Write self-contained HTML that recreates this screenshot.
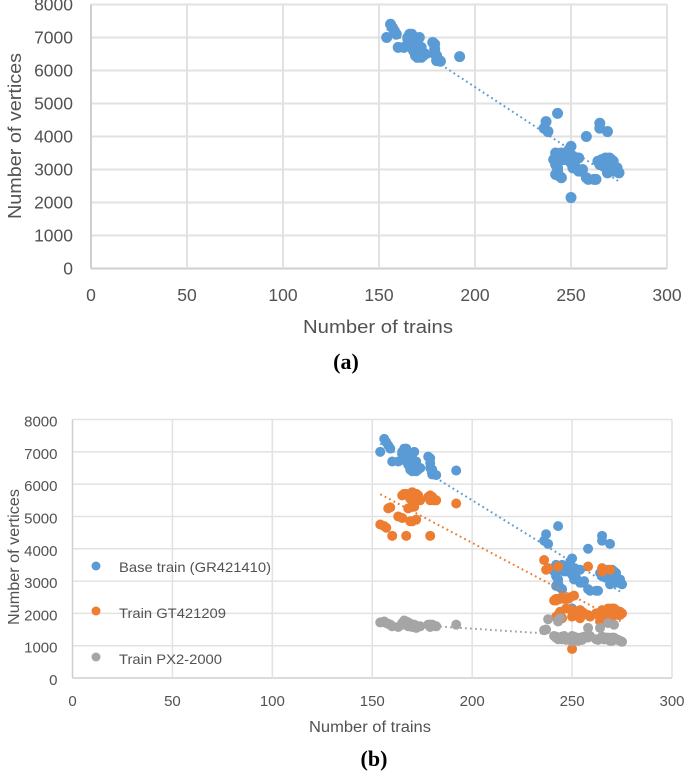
<!DOCTYPE html>
<html>
<head>
<meta charset="utf-8">
<title>Number of vertices vs number of trains</title>
<style>
html,body{margin:0;padding:0;background:#fff;width:685px;height:771px;overflow:hidden}
svg{display:block;filter:blur(.3px)}
text{font-family:"Liberation Sans",sans-serif;fill:#525252}
</style>
</head>
<body>
<svg id="figure" xmlns="http://www.w3.org/2000/svg" width="685" height="771" viewBox="0 0 685 771">
<g id="panelA"></g>
<g id="panelB"></g>
<text x="346" y="369" text-anchor="middle" style="font-family:'Liberation Serif',serif;font-weight:bold;font-size:22px;fill:#000">(a)</text>
<text x="374" y="766" text-anchor="middle" style="font-family:'Liberation Serif',serif;font-weight:bold;font-size:22px;fill:#000">(b)</text>
<g>
<circle cx="96" cy="566" r="4.5" fill="#5B9BD5"/>
<text x="119" y="572" font-size="14" textLength="152" lengthAdjust="spacingAndGlyphs">Base train (GR421410)</text>
<circle cx="96" cy="611" r="4.5" fill="#ED7D31"/>
<text x="119" y="618" font-size="14" textLength="107" lengthAdjust="spacingAndGlyphs">Train GT421209</text>
<circle cx="96" cy="657" r="4.5" fill="#A5A5A5"/>
<text x="119" y="664" font-size="14" textLength="103" lengthAdjust="spacingAndGlyphs">Train PX2-2000</text>
</g>
</svg>
<script>
const xTicks = [0, 50, 100, 150, 200, 250, 300];
const yTicks = [0, 1000, 2000, 3000, 4000, 5000, 6000, 7000, 8000];
const trains = [154,156,157,158,159,160,163,165,166,167,168,168,169,170,170,171,172,172,174,178,179,179,180,181,182,192,
  236,237,238,243,241,242,242,243,244,245,245,247,249,250,250,251,252,253,254,256,258,259,258,262,263,264,265,265,266,268,269,270,270,271,272,273,274,275,250,267,269,
  165,167,169,171,173,179,180,242,243,244,246,248,251,254,255,265,266,268,270,272,273,274,271];
const baseTrain = [7000,7400,7300,7200,7100,6700,6700,7000,7100,7100,6600,6900,6500,6800,6400,7000,6700,6400,6500,6850,6800,6500,6300,6300,6280,6420,
  4250,4450,4150,4700,3300,3500,2850,3050,2800,2750,3500,3300,3600,3700,3200,3400,3100,3350,2950,3000,2750,2700,4000,2700,2700,3250,4400,4250,3300,3350,4150,3350,3000,3300,3100,3000,2950,2900,2150,3100,2900,
  6950,6700,6450,6500,6450,6650,6450,3150,2950,3350,3300,3400,3050,3350,2950,3150,3200,3150,3200,3250,2950,3050,2950];
const trainGT = [4750,4700,4650,5250,5280,4400,5000,4950,5700,4400,5650,5250,4850,5750,4850,5300,5700,4900,5500,5600,5650,4400,5600,5500,5500,5400,
  3650,3350,3400,3450,2400,2450,1900,1950,2450,1850,2500,2150,2500,1900,2100,2550,2000,2050,1850,2000,1950,1900,3450,2000,1950,1750,3400,3300,2000,2100,3350,2150,1900,2100,2000,1950,2050,2000,900,1850,2050,
  5650,5700,5550,5400,5650,5500,5600,2400,2450,2050,2450,2450,2000,2100,2050,2100,2050,2150,2000,2100,2050,1950,2150];
const trainPX = [1720,1750,1700,1680,1650,1600,1580,1650,1780,1700,1720,1600,1680,1650,1580,1620,1600,1550,1600,1650,1600,1580,1650,1620,1600,1650,
  1480,1500,1820,1780,1300,1250,1280,1200,1850,1200,1280,1180,1250,1150,1300,1200,1250,1150,1180,1280,1550,1300,1250,1200,1180,1550,1280,1220,1200,1700,1180,1250,1150,1650,1200,1180,1150,1120,1130,1250,1150,
  1700,1750,1600,1650,1600,1650,1620,1250,1750,1250,1300,1200,1280,1250,1180,1270,1200,1250,1180,1200,1180,1150,1250];

const SVGNS = 'http://www.w3.org/2000/svg';
function make(tag, parent, props) {
  const el = document.createElementNS(SVGNS, tag);
  for (const k in props) el.setAttribute(k, props[k]);
  parent.appendChild(el);
  return el;
}
function fit(xs, ys) {
  const n = xs.length;
  const mx = xs.reduce((a, b) => a + b, 0) / n;
  const my = ys.reduce((a, b) => a + b, 0) / n;
  let sxy = 0, sxx = 0;
  for (let i = 0; i < n; i++) { sxy += (xs[i] - mx) * (ys[i] - my); sxx += (xs[i] - mx) * (xs[i] - mx); }
  const slope = sxy / sxx;
  return { slope, intercept: my - slope * mx };
}
function drawPanel(root, cfg) {
  const sx = v => cfg.x0 + (v - xTicks[0]) * (cfg.x1 - cfg.x0) / (xTicks[xTicks.length - 1] - xTicks[0]);
  const sy = v => cfg.y0 + (v - yTicks[0]) * (cfg.y1 - cfg.y0) / (yTicks[yTicks.length - 1] - yTicks[0]);

  yTicks.forEach(t => {
    const line = make('line', root, { x1: cfg.x0, x2: cfg.x1, y1: sy(t), y2: sy(t), stroke: t === 0 ? '#cfcfcf' : '#e2e2e2', 'stroke-width': cfg.gridW });
    
    
    const label = make('text', root, { x: cfg.x0 - cfg.yLabelGap, y: sy(t) + cfg.yLabelDy, 'text-anchor': 'end', 'font-size': cfg.tickSize });
    
    
    label.textContent = t;
  });
  xTicks.forEach(t => {
    const line = make('line', root, { x1: sx(t), x2: sx(t), y1: cfg.y0, y2: cfg.y1, stroke: t === 0 ? '#cfcfcf' : '#e2e2e2', 'stroke-width': cfg.gridW });
    
    
    const label = make('text', root, { x: sx(t), y: cfg.xLabelY, 'text-anchor': 'middle', 'font-size': cfg.tickSize });
    
    
    label.textContent = t;
  });

  cfg.series.forEach(s => {
    s.values.forEach((v, i) => {
      const dot = make('circle', root, { cx: sx(trains[i]), cy: sy(v), r: cfg.r, fill: s.color });
      
      
    });
  });
  cfg.series.forEach(s => {
    const f = fit(trains, s.values);
    const xa = Math.min(...trains), xb = Math.max(...trains);
    const trend = make('line', root, { x1: sx(xa), y1: sy(f.slope * xa + f.intercept), x2: sx(xb), y2: sy(f.slope * xb + f.intercept), stroke: s.color, 'stroke-width': 2, 'stroke-dasharray': '1.8 3.2' });
    
    
  });

  const xt = make('text', root, { x: cfg.xTitle[0], y: cfg.xTitle[1], 'text-anchor': 'middle', 'font-size': cfg.titleSize, textLength: cfg.xTitle[2], lengthAdjust: 'spacingAndGlyphs' });
  
  
  xt.textContent = 'Number of trains';
  const yt = make('text', root, { transform: 'translate(' + cfg.yTitle[0] + ' ' + cfg.yTitle[1] + ') rotate(-90)', 'text-anchor': 'middle', 'font-size': cfg.titleSize, textLength: cfg.yTitle[2], lengthAdjust: 'spacingAndGlyphs' });
  
  
  yt.textContent = 'Number of vertices';
}

drawPanel(document.getElementById('panelA'), {
  x0: 91, x1: 667, y0: 268.5, y1: 4.5, gridW: 2, r: 5.5,
  tickSize: 17.5, titleSize: 18.5, yLabelGap: 18, yLabelDy: 6, xLabelY: 301,
  xTitle: [378, 333, 150], yTitle: [21, 136, 166],
  series: [{ name: 'base-train', values: baseTrain, color: '#5B9BD5' }]
});
drawPanel(document.getElementById('panelB'), {
  x0: 72.5, x1: 672, y0: 678, y1: 419.5, gridW: 1.5, r: 5,
  tickSize: 15, titleSize: 15.5, yLabelGap: 15, yLabelDy: 7, xLabelY: 706,
  xTitle: [370, 732, 122], yTitle: [19, 557, 136],
  series: [
    { name: 'base-train', values: baseTrain, color: '#5B9BD5' },
    { name: 'train-gt', values: trainGT, color: '#ED7D31' },
    { name: 'train-px', values: trainPX, color: '#A5A5A5' }
  ]
});
</script>
</body>
</html>
